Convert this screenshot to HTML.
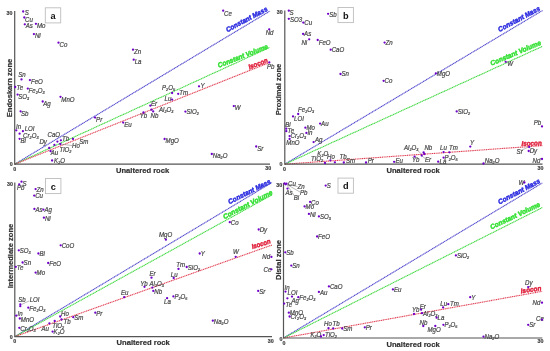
<!DOCTYPE html>
<html><head><meta charset="utf-8"><title>Mass balance plots</title><style>
html,body{margin:0;padding:0;background:#fff;}
body{width:550px;height:351px;overflow:hidden;}
svg{display:block;}
text{font-family:"Liberation Sans",Arial,sans-serif;}
.lb text{font-size:6.8px;font-style:italic;fill:#4a4a4a;stroke:#4a4a4a;stroke-width:0.22px;}
.ll{font-size:6.9px;font-weight:bold;font-style:italic;stroke-width:0.45px;}
.tk{font-size:5.3px;font-weight:bold;fill:#444;stroke:#444;stroke-width:0.2px;}
.at{font-size:7.6px;font-weight:bold;fill:#333;stroke:#333;stroke-width:0.2px;}
.pl{font-size:9.2px;font-weight:bold;fill:#111;}
</style></head><body>
<svg width="550" height="351" viewBox="0 0 550 351">
<rect width="550" height="351" fill="#fff"/>
<g><line x1="14.7" y1="164.2" x2="270" y2="11" stroke="#5048cc" stroke-width="1.1" stroke-dasharray="1.3 0.45"/><line x1="14.7" y1="164.2" x2="269.6" y2="47.5" stroke="#3fd83f" stroke-width="1.1" stroke-dasharray="1.3 0.45"/><line x1="14.7" y1="164.2" x2="269.6" y2="62.5" stroke="#e03c50" stroke-width="1.1" stroke-dasharray="1.2 0.6"/><path d="M14.7 11 V164.2 H270" fill="none" stroke="#555" stroke-width="1.2"/><text x="227.5" y="32.2" transform="rotate(-28 227.5 32.2)" class="ll" fill="#2a2ae0" stroke="#2a2ae0" textLength="46" lengthAdjust="spacingAndGlyphs">Constant Mass</text><text x="218.8" y="67.8" transform="rotate(-21.3 218.8 67.8)" class="ll" fill="#33e033" stroke="#33e033" textLength="53.3" lengthAdjust="spacingAndGlyphs">Constant Volume</text><text x="249.5" y="69.5" transform="rotate(-21.5 249.5 69.5)" class="ll" fill="#e0203c" stroke="#e0203c" textLength="20.2" lengthAdjust="spacingAndGlyphs">Isocon</text><text class="tk" x="6.5" y="14.5">30</text><text class="tk" x="265.3" y="170.2">30</text><text class="tk" x="9.8" y="166">0</text><text class="tk" x="13.2" y="170.5">0</text><text class="at" x="116" y="172.6">Unaltered rock</text><text class="at" text-anchor="middle" transform="translate(12.3 88) rotate(-90)">Endoskarn zone</text><rect x="45.3" y="7.8" width="15.4" height="15.1" fill="#fff" stroke="#bdbdbd" stroke-width="0.9"/><text class="pl" x="53" y="18.8" text-anchor="middle">a</text></g>
<g><line x1="284.8" y1="164.2" x2="542.5" y2="10.5" stroke="#5048cc" stroke-width="1.1" stroke-dasharray="1.3 0.45"/><line x1="284.8" y1="164.2" x2="542.3" y2="46.4" stroke="#3fd83f" stroke-width="1.1" stroke-dasharray="1.3 0.45"/><line x1="284.8" y1="164.2" x2="542.3" y2="145.6" stroke="#e03c50" stroke-width="1.1" stroke-dasharray="1.2 0.6"/><path d="M284.8 10.5 V164.2 H542.5" fill="none" stroke="#555" stroke-width="1.2"/><text x="499.6" y="31.9" transform="rotate(-28 499.6 31.9)" class="ll" fill="#2a2ae0" stroke="#2a2ae0" textLength="46.5" lengthAdjust="spacingAndGlyphs">Constant Mass</text><text x="491.5" y="65.8" transform="rotate(-23 491.5 65.8)" class="ll" fill="#33e033" stroke="#33e033" textLength="54.5" lengthAdjust="spacingAndGlyphs">Constant Volume</text><text x="521.4" y="145.9" transform="rotate(-1.5 521.4 145.9)" class="ll" fill="#e0203c" stroke="#e0203c" textLength="20.5" lengthAdjust="spacingAndGlyphs">Isocon</text><text class="tk" x="276.8" y="14">30</text><text class="tk" x="537.5" y="170.2">30</text><text class="tk" x="279.6" y="166">0</text><text class="tk" x="283" y="170.5">0</text><text class="at" x="386.5" y="172.6">Unaltered rock</text><text class="at" text-anchor="middle" transform="translate(280.8 89.5) rotate(-90)">Proximal zone</text><rect x="338" y="7.5" width="15.4" height="15.1" fill="#fff" stroke="#bdbdbd" stroke-width="0.9"/><text class="pl" x="345.7" y="18.5" text-anchor="middle">b</text></g>
<g><line x1="14.8" y1="336.6" x2="272" y2="182.5" stroke="#5048cc" stroke-width="1.1" stroke-dasharray="1.3 0.45"/><line x1="14.8" y1="336.6" x2="271.8" y2="195" stroke="#3fd83f" stroke-width="1.1" stroke-dasharray="1.3 0.45"/><line x1="14.8" y1="336.6" x2="272" y2="245" stroke="#e03c50" stroke-width="1.1" stroke-dasharray="1.2 0.6"/><path d="M14.8 182.5 V336.6 H272" fill="none" stroke="#555" stroke-width="1.2"/><text x="229.6" y="204.3" transform="rotate(-26.9 229.6 204.3)" class="ll" fill="#2a2ae0" stroke="#2a2ae0" textLength="46.8" lengthAdjust="spacingAndGlyphs">Constant Mass</text><text x="224.4" y="219.2" transform="rotate(-27.3 224.4 219.2)" class="ll" fill="#33e033" stroke="#33e033" textLength="54.7" lengthAdjust="spacingAndGlyphs">Constant Volume</text><text x="252.4" y="249.1" transform="rotate(-17.7 252.4 249.1)" class="ll" fill="#e0203c" stroke="#e0203c" textLength="19.7" lengthAdjust="spacingAndGlyphs">Isocon</text><text class="tk" x="7" y="186.4">30</text><text class="tk" x="267.7" y="343.2">30</text><text class="tk" x="9.8" y="338.6">0</text><text class="tk" x="13.2" y="343.2">0</text><text class="at" x="116.6" y="345.3">Unaltered rock</text><text class="at" text-anchor="middle" transform="translate(12.6 256) rotate(-90)">Intermediate zone</text><rect x="45.5" y="178.5" width="15.4" height="15.1" fill="#fff" stroke="#bdbdbd" stroke-width="0.9"/><text class="pl" x="53.2" y="189.5" text-anchor="middle">c</text></g>
<g><line x1="283.5" y1="338" x2="542.3" y2="183" stroke="#5048cc" stroke-width="1.1" stroke-dasharray="1.3 0.45"/><line x1="283.5" y1="338" x2="542.3" y2="207.6" stroke="#3fd83f" stroke-width="1.1" stroke-dasharray="1.3 0.45"/><line x1="283.5" y1="338" x2="542.3" y2="291.3" stroke="#e03c50" stroke-width="1.1" stroke-dasharray="1.2 0.6"/><path d="M283.5 183 V338 H542.3" fill="none" stroke="#555" stroke-width="1.2"/><text x="499.6" y="204.4" transform="rotate(-27.9 499.6 204.4)" class="ll" fill="#2a2ae0" stroke="#2a2ae0" textLength="46.5" lengthAdjust="spacingAndGlyphs">Constant Mass</text><text x="491.5" y="229.6" transform="rotate(-25.5 491.5 229.6)" class="ll" fill="#33e033" stroke="#33e033" textLength="54.4" lengthAdjust="spacingAndGlyphs">Constant Volume</text><text x="521.1" y="293.4" transform="rotate(-8.3 521.1 293.4)" class="ll" fill="#e0203c" stroke="#e0203c" textLength="20.7" lengthAdjust="spacingAndGlyphs">Isocon</text><text class="tk" x="276.3" y="187.2">30</text><text class="tk" x="537.5" y="343.2">30</text><text class="tk" x="279.4" y="340.5">0</text><text class="tk" x="282.5" y="344.8">0</text><text class="at" x="386.5" y="346.5">Unaltered rock</text><text class="at" text-anchor="middle" transform="translate(280.8 260) rotate(-90)">Distal zone</text><rect x="338" y="178.1" width="15.4" height="15.1" fill="#fff" stroke="#bdbdbd" stroke-width="0.9"/><text class="pl" x="345.7" y="189.1" text-anchor="middle">d</text></g>
<g stroke="#777" stroke-width="0.5"><line x1="60.3" y1="144" x2="72" y2="145.6"/><line x1="417.5" y1="150.4" x2="422" y2="154.5"/><line x1="422" y1="156" x2="425.5" y2="158.8"/><line x1="21.5" y1="304.5" x2="29.2" y2="300.9"/><line x1="520.6" y1="150.6" x2="528.6" y2="147"/><line x1="287" y1="184" x2="297.5" y2="186.6"/><line x1="287" y1="184.5" x2="300" y2="192"/><line x1="287" y1="185" x2="294.5" y2="196"/></g>
<g class="lb"><text transform="translate(24.8 15.2) scale(0.9 1)">S</text><text transform="translate(25.1 21.6) scale(0.9 1)">Cu</text><text transform="translate(25.8 28.4) scale(0.9 1)">As</text><text transform="translate(37 27.6) scale(0.9 1)">Mo</text><text transform="translate(34.9 38.2) scale(0.9 1)">Ni</text><text transform="translate(59.5 46.8) scale(0.9 1)">Co</text><text transform="translate(134 53.8) scale(0.9 1)">Zn</text><text transform="translate(134.7 63.8) scale(0.9 1)">La</text><text transform="translate(224.1 16.4) scale(0.9 1)">Ce</text><text transform="translate(265.7 35.2) scale(0.9 1)">Nd</text><text transform="translate(267 69.4) scale(0.9 1)">Pb</text><text transform="translate(18.3 77) scale(0.9 1)">Sn</text><text transform="translate(31 84.3) scale(0.9 1)">FeO</text><text transform="translate(16.5 89.7) scale(0.9 1)">Te</text><text transform="translate(28.5 93) scale(0.9 1)">Fe<tspan font-size="4.22" baseline-shift="-0.9">2</tspan>O<tspan font-size="4.22" baseline-shift="-0.9">3</tspan></text><text transform="translate(18.2 99) scale(0.9 1)">SO<tspan font-size="4.22" baseline-shift="-0.9">3</tspan></text><text transform="translate(61.3 101.7) scale(0.9 1)">MnO</text><text transform="translate(43.3 105.6) scale(0.9 1)">Ag</text><text transform="translate(20.9 115.9) scale(0.9 1)">Sb</text><text transform="translate(96.1 121.7) scale(0.9 1)">Pr</text><text transform="translate(124.2 126.7) scale(0.9 1)">Eu</text><text transform="translate(16 128.5) scale(0.9 1)">In</text><text transform="translate(24.7 131.4) scale(0.9 1)">LOI</text><text transform="translate(23.1 137.7) scale(0.9 1)">Cr<tspan font-size="4.22" baseline-shift="-0.9">2</tspan>O<tspan font-size="4.22" baseline-shift="-0.9">3</tspan></text><text transform="translate(20.5 143) scale(0.9 1)">Bi</text><text transform="translate(47.5 136.7) scale(0.9 1)">CaO</text><text transform="translate(62 140.5) scale(0.9 1)">Tb</text><text transform="translate(39.4 143.8) scale(0.9 1)">Dy</text><text transform="translate(59.5 151.5) scale(0.9 1)">TiO<tspan font-size="4.22" baseline-shift="-0.9">2</tspan></text><text transform="translate(79.2 143.8) scale(0.9 1)">Sm</text><text transform="translate(72.1 148.2) scale(0.9 1)">Ho</text><text transform="translate(50.8 155.3) scale(0.9 1)">Au</text><text transform="translate(54.1 162.6) scale(0.9 1)">K<tspan font-size="4.22" baseline-shift="-0.9">2</tspan>O</text><text transform="translate(162 89.5) scale(0.9 1)">P<tspan font-size="4.22" baseline-shift="-0.9">2</tspan>O<tspan font-size="4.22" baseline-shift="-0.9">5</tspan></text><text transform="translate(200.5 87.8) scale(0.9 1)">Y</text><text transform="translate(179.3 95.3) scale(0.9 1)">Tm</text><text transform="translate(164.6 100.8) scale(0.9 1)">Lu</text><text transform="translate(150.9 105.9) scale(0.9 1)">Er</text><text transform="translate(159 111.8) scale(0.9 1)">Al<tspan font-size="4.22" baseline-shift="-0.9">2</tspan>O<tspan font-size="4.22" baseline-shift="-0.9">3</tspan></text><text transform="translate(150.5 118) scale(0.9 1)">Nb</text><text transform="translate(139.8 118.2) scale(0.9 1)">Yb</text><text transform="translate(186.5 114) scale(0.9 1)">SiO<tspan font-size="4.22" baseline-shift="-0.9">2</tspan></text><text transform="translate(234.8 110.2) scale(0.9 1)">W</text><text transform="translate(165.6 143.1) scale(0.9 1)">MgO</text><text transform="translate(257.2 150.6) scale(0.9 1)">Sr</text><text transform="translate(212.8 158.1) scale(0.9 1)">Na<tspan font-size="4.22" baseline-shift="-0.9">2</tspan>O</text><text transform="translate(289.4 15.3) scale(0.9 1)">S</text><text transform="translate(290 22.3) scale(0.9 1)">SO3</text><text transform="translate(304.3 24.9) scale(0.9 1)">Cu</text><text transform="translate(329.2 16.6) scale(0.9 1)">Sb</text><text transform="translate(304.1 36.2) scale(0.9 1)">As</text><text transform="translate(301.4 44.9) scale(0.9 1)">Ni</text><text transform="translate(318.7 44.7) scale(0.9 1)">FeO</text><text transform="translate(331.7 52) scale(0.9 1)">CaO</text><text transform="translate(385.6 44.9) scale(0.9 1)">Zn</text><text transform="translate(341.5 76.3) scale(0.9 1)">Sn</text><text transform="translate(384.6 83.1) scale(0.9 1)">Co</text><text transform="translate(436.8 75.6) scale(0.9 1)">MgO</text><text transform="translate(507.2 65.6) scale(0.9 1)">W</text><text transform="translate(457.7 113.7) scale(0.9 1)">SiO<tspan font-size="4.22" baseline-shift="-0.9">2</tspan></text><text transform="translate(533.7 125) scale(0.9 1)">Pb</text><text transform="translate(469.9 144.6) scale(0.9 1)">Y</text><text transform="translate(516.6 154) scale(0.9 1)">Sr</text><text transform="translate(529.7 153.3) scale(0.9 1)">Dy</text><text transform="translate(532.5 162.6) scale(0.9 1)">Nd</text><text transform="translate(484.8 162.8) scale(0.9 1)">Na<tspan font-size="4.22" baseline-shift="-0.9">2</tspan>O</text><text transform="translate(439.5 163.6) scale(0.9 1)">La</text><text transform="translate(444.6 159.9) scale(0.9 1)">P<tspan font-size="4.22" baseline-shift="-0.9">2</tspan>O<tspan font-size="4.22" baseline-shift="-0.9">5</tspan></text><text transform="translate(440 150.2) scale(0.9 1)">Lu</text><text transform="translate(449 150.2) scale(0.9 1)">Tm</text><text transform="translate(424.4 150) scale(0.9 1)">Nb</text><text transform="translate(425 162) scale(0.9 1)">Er</text><text transform="translate(404 149.6) scale(0.9 1)">Al<tspan font-size="4.22" baseline-shift="-0.9">2</tspan>O<tspan font-size="4.22" baseline-shift="-0.9">3</tspan></text><text transform="translate(412 162) scale(0.9 1)">Yb</text><text transform="translate(395.5 163.1) scale(0.9 1)">Eu</text><text transform="translate(367.8 163.2) scale(0.9 1)">Pr</text><text transform="translate(346 163) scale(0.9 1)">Sm</text><text transform="translate(339.4 158.6) scale(0.9 1)">Tb</text><text transform="translate(327.1 159) scale(0.9 1)">Ho</text><text transform="translate(311.1 161) scale(0.9 1)">TiO<tspan font-size="4.22" baseline-shift="-0.9">2</tspan></text><text transform="translate(317.3 156) scale(0.9 1)">K<tspan font-size="4.22" baseline-shift="-0.9">2</tspan>O</text><text transform="translate(298 111.6) scale(0.9 1)">Fe<tspan font-size="4.22" baseline-shift="-0.9">2</tspan>O<tspan font-size="4.22" baseline-shift="-0.9">3</tspan></text><text transform="translate(294 120.5) scale(0.9 1)">LOI</text><text transform="translate(285.3 126.5) scale(0.9 1)">Bi</text><text transform="translate(287.5 132.6) scale(0.9 1)">Te</text><text transform="translate(306.4 130) scale(0.9 1)">Mo</text><text transform="translate(321.1 125.9) scale(0.9 1)">Au</text><text transform="translate(307.4 135.2) scale(0.9 1)">In</text><text transform="translate(290.6 138.4) scale(0.9 1)">Cr<tspan font-size="4.22" baseline-shift="-0.9">2</tspan>O<tspan font-size="4.22" baseline-shift="-0.9">3</tspan></text><text transform="translate(286.3 145) scale(0.9 1)">MnO</text><text transform="translate(315 141.8) scale(0.9 1)">Ag</text><text transform="translate(22.6 185.5) scale(0.9 1)">S</text><text transform="translate(17 190) scale(0.9 1)">Pb</text><text transform="translate(36.6 191.9) scale(0.9 1)">Zn</text><text transform="translate(35.2 198.2) scale(0.9 1)">Cu</text><text transform="translate(35.4 211.7) scale(0.9 1)">As</text><text transform="translate(44.4 212.4) scale(0.9 1)">Ag</text><text transform="translate(44.9 220.5) scale(0.9 1)">Ni</text><text transform="translate(61.7 248.1) scale(0.9 1)">CoO</text><text transform="translate(19.8 253.1) scale(0.9 1)">SO<tspan font-size="4.22" baseline-shift="-0.9">3</tspan></text><text transform="translate(39.4 256.3) scale(0.9 1)">Bi</text><text transform="translate(23.6 265.3) scale(0.9 1)">Sn</text><text transform="translate(49.2 265.8) scale(0.9 1)">FeO</text><text transform="translate(16.8 269.6) scale(0.9 1)">Te</text><text transform="translate(36.6 275.4) scale(0.9 1)">Mo</text><text transform="translate(18.3 302.1) scale(0.9 1)">Sb</text><text transform="translate(29.7 302) scale(0.9 1)">LOI</text><text transform="translate(29.3 310.5) scale(0.9 1)">Fe<tspan font-size="4.22" baseline-shift="-0.9">2</tspan>O<tspan font-size="4.22" baseline-shift="-0.9">3</tspan></text><text transform="translate(17.5 316) scale(0.9 1)">In</text><text transform="translate(20.8 321.8) scale(0.9 1)">MnO</text><text transform="translate(20.3 330.6) scale(0.9 1)">Cr<tspan font-size="4.22" baseline-shift="-0.9">2</tspan>O<tspan font-size="4.22" baseline-shift="-0.9">3</tspan></text><text transform="translate(61 316) scale(0.9 1)">Ho</text><text transform="translate(63.5 324) scale(0.9 1)">Tb</text><text transform="translate(74.3 320) scale(0.9 1)">Sm</text><text transform="translate(96.3 315.5) scale(0.9 1)">Pr</text><text transform="translate(121 295) scale(0.9 1)">Eu</text><text transform="translate(52.2 328) scale(0.9 1)">TiO<tspan font-size="4.22" baseline-shift="-0.9">2</tspan></text><text transform="translate(41.5 331) scale(0.9 1)">Au</text><text transform="translate(53.6 334.4) scale(0.9 1)">K<tspan font-size="4.22" baseline-shift="-0.9">2</tspan>O</text><text transform="translate(176.2 267.4) scale(0.9 1)">Tm</text><text transform="translate(187.7 269.8) scale(0.9 1)">SiO<tspan font-size="4.22" baseline-shift="-0.9">2</tspan></text><text transform="translate(149.5 276) scale(0.9 1)">Er</text><text transform="translate(170.8 276.9) scale(0.9 1)">Lu</text><text transform="translate(140.2 286) scale(0.9 1)">Yb</text><text transform="translate(149.5 286.2) scale(0.9 1)">Al<tspan font-size="4.22" baseline-shift="-0.9">2</tspan>O<tspan font-size="4.22" baseline-shift="-0.9">3</tspan></text><text transform="translate(154.3 293.7) scale(0.9 1)">Nb</text><text transform="translate(164 304) scale(0.9 1)">La</text><text transform="translate(174.4 299.2) scale(0.9 1)">P<tspan font-size="4.22" baseline-shift="-0.9">2</tspan>O<tspan font-size="4.22" baseline-shift="-0.9">5</tspan></text><text transform="translate(259.2 293.7) scale(0.9 1)">Sr</text><text transform="translate(213.8 323.5) scale(0.9 1)">Na<tspan font-size="4.22" baseline-shift="-0.9">2</tspan>O</text><text transform="translate(200.7 256.3) scale(0.9 1)">Y</text><text transform="translate(233 254) scale(0.9 1)">W</text><text transform="translate(262.3 259.2) scale(0.9 1)">Nd</text><text transform="translate(263.5 271.6) scale(0.9 1)">Ce</text><text transform="translate(230.8 225) scale(0.9 1)">Co</text><text transform="translate(259.7 232.3) scale(0.9 1)">Dy</text><text transform="translate(159 237) scale(0.9 1)">MgO</text><text transform="translate(288 185.8) scale(0.9 1)">Cu</text><text transform="translate(297.6 188.5) scale(0.9 1)">Zn</text><text transform="translate(300 194.5) scale(0.9 1)">Pb</text><text transform="translate(285.5 194.5) scale(0.9 1)">As</text><text transform="translate(293.8 199.6) scale(0.9 1)">Bi</text><text transform="translate(326.7 188.2) scale(0.9 1)">S</text><text transform="translate(311.1 204.5) scale(0.9 1)">Co</text><text transform="translate(305.6 209) scale(0.9 1)">Mo</text><text transform="translate(309.9 216.5) scale(0.9 1)">Ni</text><text transform="translate(319.9 219) scale(0.9 1)">SO<tspan font-size="4.22" baseline-shift="-0.9">3</tspan></text><text transform="translate(318.1 239.1) scale(0.9 1)">FeO</text><text transform="translate(286.3 254.9) scale(0.9 1)">Sb</text><text transform="translate(292.3 268.2) scale(0.9 1)">Sn</text><text transform="translate(284.6 290) scale(0.9 1)">In</text><text transform="translate(287.6 295) scale(0.9 1)">LOI</text><text transform="translate(329.9 289) scale(0.9 1)">CaO</text><text transform="translate(319.9 294.5) scale(0.9 1)">Au</text><text transform="translate(393.9 292) scale(0.9 1)">Eu</text><text transform="translate(291.5 302.5) scale(0.9 1)">Ag</text><text transform="translate(299.3 299.8) scale(0.9 1)">Fe<tspan font-size="4.22" baseline-shift="-0.9">2</tspan>O<tspan font-size="4.22" baseline-shift="-0.9">3</tspan></text><text transform="translate(285.5 307) scale(0.9 1)">Te</text><text transform="translate(289.8 315.3) scale(0.9 1)">MnO</text><text transform="translate(290.6 319.1) scale(0.9 1)">Cr<tspan font-size="4.22" baseline-shift="-0.9">2</tspan>O<tspan font-size="4.22" baseline-shift="-0.9">3</tspan></text><text transform="translate(324 326) scale(0.9 1)">Ho</text><text transform="translate(332.5 326) scale(0.9 1)">Tb</text><text transform="translate(343.2 331.1) scale(0.9 1)">Sm</text><text transform="translate(365.8 329.9) scale(0.9 1)">Pr</text><text transform="translate(325 337.2) scale(0.9 1)">TiO<tspan font-size="4.22" baseline-shift="-0.9">2</tspan></text><text transform="translate(310.4 337.2) scale(0.9 1)">K<tspan font-size="4.22" baseline-shift="-0.9">2</tspan>O</text><text transform="translate(518.6 185) scale(0.9 1)">W</text><text transform="translate(456.9 258) scale(0.9 1)">SiO<tspan font-size="4.22" baseline-shift="-0.9">2</tspan></text><text transform="translate(525 285) scale(0.9 1)">Dy</text><text transform="translate(471.2 299.8) scale(0.9 1)">Y</text><text transform="translate(532.5 305) scale(0.9 1)">Nd</text><text transform="translate(440.3 306) scale(0.9 1)">Lu</text><text transform="translate(449.9 306) scale(0.9 1)">Tm</text><text transform="translate(419.7 309) scale(0.9 1)">Er</text><text transform="translate(412 312.3) scale(0.9 1)">Yb</text><text transform="translate(423 315.8) scale(0.9 1)">Al<tspan font-size="4.22" baseline-shift="-0.9">2</tspan>O<tspan font-size="4.22" baseline-shift="-0.9">3</tspan></text><text transform="translate(437.6 320.3) scale(0.9 1)">La</text><text transform="translate(536 321.2) scale(0.9 1)">Ce</text><text transform="translate(419.5 324.5) scale(0.9 1)">Nb</text><text transform="translate(427.5 332.2) scale(0.9 1)">MgO</text><text transform="translate(444.4 327.4) scale(0.9 1)">P<tspan font-size="4.22" baseline-shift="-0.9">2</tspan>O<tspan font-size="4.22" baseline-shift="-0.9">5</tspan></text><text transform="translate(529.2 327.4) scale(0.9 1)">Sr</text><text transform="translate(484.5 339.2) scale(0.9 1)">Na<tspan font-size="4.22" baseline-shift="-0.9">2</tspan>O</text></g>
<g fill="#7000c8"><circle cx="23.2" cy="11.5" r="1.15"/><circle cx="24.3" cy="17.5" r="1.15"/><circle cx="24.8" cy="24.3" r="1.15"/><circle cx="35.9" cy="23.8" r="1.15"/><circle cx="33.9" cy="34.1" r="1.15"/><circle cx="58.5" cy="42.7" r="1.15"/><circle cx="133" cy="49.7" r="1.15"/><circle cx="133.7" cy="59.7" r="1.15"/><circle cx="223.2" cy="10.7" r="1.15"/><circle cx="269.2" cy="29.3" r="1.15"/><circle cx="269.3" cy="62.4" r="1.15"/><circle cx="21.5" cy="79.4" r="1.15"/><circle cx="29.9" cy="80.1" r="1.15"/><circle cx="15.2" cy="87" r="1.15"/><circle cx="27.8" cy="88.6" r="1.15"/><circle cx="17.6" cy="94.6" r="1.15"/><circle cx="60.5" cy="96.8" r="1.15"/><circle cx="42.7" cy="101.5" r="1.15"/><circle cx="20.6" cy="111.3" r="1.15"/><circle cx="95.1" cy="117.6" r="1.15"/><circle cx="123.2" cy="122.6" r="1.15"/><circle cx="16.3" cy="130.3" r="1.15"/><circle cx="22.9" cy="131.2" r="1.15"/><circle cx="19.6" cy="133.7" r="1.15"/><circle cx="19.6" cy="138.8" r="1.15"/><circle cx="57.4" cy="141.6" r="1.15"/><circle cx="60.9" cy="140.3" r="1.15"/><circle cx="49.2" cy="148" r="1.15"/><circle cx="54.4" cy="144.9" r="1.15"/><circle cx="60.3" cy="144" r="1.15"/><circle cx="73" cy="138.9" r="1.15"/><circle cx="50.6" cy="151.2" r="1.15"/><circle cx="52.1" cy="160.5" r="1.15"/><circle cx="172.1" cy="93" r="1.15"/><circle cx="199" cy="86.3" r="1.15"/><circle cx="178.2" cy="93.8" r="1.15"/><circle cx="172.1" cy="99.6" r="1.15"/><circle cx="150.3" cy="105.7" r="1.15"/><circle cx="151.4" cy="109.7" r="1.15"/><circle cx="153.2" cy="111.4" r="1.15"/><circle cx="143.5" cy="112.5" r="1.15"/><circle cx="185.4" cy="111.6" r="1.15"/><circle cx="233.8" cy="106.1" r="1.15"/><circle cx="164.6" cy="139" r="1.15"/><circle cx="256.2" cy="146.5" r="1.15"/><circle cx="211.8" cy="154" r="1.15"/><circle cx="288.8" cy="10.7" r="1.15"/><circle cx="288.8" cy="18.8" r="1.15"/><circle cx="303.3" cy="22.6" r="1.15"/><circle cx="328.1" cy="13.8" r="1.15"/><circle cx="303.1" cy="33.9" r="1.15"/><circle cx="309.2" cy="39.3" r="1.15"/><circle cx="317.7" cy="40" r="1.15"/><circle cx="330.7" cy="49.7" r="1.15"/><circle cx="384.6" cy="42.6" r="1.15"/><circle cx="340.5" cy="74" r="1.15"/><circle cx="383.6" cy="80.8" r="1.15"/><circle cx="435.8" cy="73.3" r="1.15"/><circle cx="505.7" cy="61.8" r="1.15"/><circle cx="456.7" cy="111.4" r="1.15"/><circle cx="542" cy="126.4" r="1.15"/><circle cx="470.3" cy="146.6" r="1.15"/><circle cx="529.2" cy="147" r="1.15"/><circle cx="528.7" cy="151" r="1.15"/><circle cx="542" cy="159" r="1.15"/><circle cx="483.5" cy="163.5" r="1.15"/><circle cx="438.2" cy="161.7" r="1.15"/><circle cx="443.6" cy="157.6" r="1.15"/><circle cx="443.6" cy="152.1" r="1.15"/><circle cx="449.4" cy="152.3" r="1.15"/><circle cx="423.6" cy="152.5" r="1.15"/><circle cx="424.4" cy="154" r="1.15"/><circle cx="421.7" cy="155.5" r="1.15"/><circle cx="414.6" cy="156.6" r="1.15"/><circle cx="394.1" cy="161.8" r="1.15"/><circle cx="366" cy="162.5" r="1.15"/><circle cx="343.8" cy="162.5" r="1.15"/><circle cx="334.9" cy="162.3" r="1.15"/><circle cx="330.4" cy="160.3" r="1.15"/><circle cx="325" cy="163" r="1.15"/><circle cx="298.2" cy="114" r="1.15"/><circle cx="293" cy="116.4" r="1.15"/><circle cx="286.3" cy="128.7" r="1.15"/><circle cx="286.3" cy="131.2" r="1.15"/><circle cx="305.4" cy="127.7" r="1.15"/><circle cx="320.1" cy="123.6" r="1.15"/><circle cx="306.4" cy="132.9" r="1.15"/><circle cx="289.6" cy="136.1" r="1.15"/><circle cx="289.6" cy="139" r="1.15"/><circle cx="313.6" cy="142.1" r="1.15"/><circle cx="21.5" cy="181.7" r="1.15"/><circle cx="19.2" cy="184.4" r="1.15"/><circle cx="35.6" cy="189.1" r="1.15"/><circle cx="34.2" cy="195.6" r="1.15"/><circle cx="34.4" cy="208.9" r="1.15"/><circle cx="43.4" cy="209.6" r="1.15"/><circle cx="43.9" cy="217.7" r="1.15"/><circle cx="60.7" cy="245.3" r="1.15"/><circle cx="18.8" cy="250.3" r="1.15"/><circle cx="38.4" cy="253.5" r="1.15"/><circle cx="22.6" cy="262.5" r="1.15"/><circle cx="48.2" cy="263" r="1.15"/><circle cx="15.8" cy="266.8" r="1.15"/><circle cx="35.6" cy="272.6" r="1.15"/><circle cx="20.3" cy="304.3" r="1.15"/><circle cx="20.3" cy="306.2" r="1.15"/><circle cx="28.3" cy="307.7" r="1.15"/><circle cx="16.3" cy="315.7" r="1.15"/><circle cx="19.8" cy="318.5" r="1.15"/><circle cx="19.3" cy="327.8" r="1.15"/><circle cx="60.2" cy="316.5" r="1.15"/><circle cx="61.5" cy="319.5" r="1.15"/><circle cx="73.3" cy="317.2" r="1.15"/><circle cx="95.3" cy="312.7" r="1.15"/><circle cx="124.2" cy="297.2" r="1.15"/><circle cx="54.7" cy="321" r="1.15"/><circle cx="49.4" cy="323.3" r="1.15"/><circle cx="52.6" cy="331.6" r="1.15"/><circle cx="178.5" cy="268.9" r="1.15"/><circle cx="186.7" cy="267" r="1.15"/><circle cx="151.5" cy="277.7" r="1.15"/><circle cx="173.7" cy="278" r="1.15"/><circle cx="144.5" cy="286.8" r="1.15"/><circle cx="152.4" cy="287.6" r="1.15"/><circle cx="153.3" cy="290.9" r="1.15"/><circle cx="167.1" cy="298.2" r="1.15"/><circle cx="173.4" cy="296.4" r="1.15"/><circle cx="258.2" cy="290.9" r="1.15"/><circle cx="212.8" cy="320.7" r="1.15"/><circle cx="199.7" cy="253.5" r="1.15"/><circle cx="235.7" cy="256.8" r="1.15"/><circle cx="271.4" cy="256.9" r="1.15"/><circle cx="271.4" cy="269.3" r="1.15"/><circle cx="229.8" cy="222.2" r="1.15"/><circle cx="258.7" cy="229.5" r="1.15"/><circle cx="165.9" cy="239.7" r="1.15"/><circle cx="285.6" cy="184.3" r="1.15"/><circle cx="284.5" cy="183.4" r="1.15"/><circle cx="286.5" cy="183.6" r="1.15"/><circle cx="287.5" cy="188.6" r="1.15"/><circle cx="325.7" cy="185.6" r="1.15"/><circle cx="310.1" cy="201.9" r="1.15"/><circle cx="304.6" cy="206.4" r="1.15"/><circle cx="308.9" cy="213.9" r="1.15"/><circle cx="318.9" cy="216.4" r="1.15"/><circle cx="317.1" cy="236.5" r="1.15"/><circle cx="285.3" cy="252.3" r="1.15"/><circle cx="291.3" cy="265.6" r="1.15"/><circle cx="285.5" cy="291.6" r="1.15"/><circle cx="328.9" cy="286.4" r="1.15"/><circle cx="318.9" cy="291.9" r="1.15"/><circle cx="392.9" cy="289.4" r="1.15"/><circle cx="292" cy="296.6" r="1.15"/><circle cx="298.3" cy="297.2" r="1.15"/><circle cx="287.4" cy="298.3" r="1.15"/><circle cx="284.2" cy="303.6" r="1.15"/><circle cx="288.8" cy="312.7" r="1.15"/><circle cx="289.6" cy="316.5" r="1.15"/><circle cx="328.5" cy="328.2" r="1.15"/><circle cx="333.2" cy="328.4" r="1.15"/><circle cx="342.2" cy="328.5" r="1.15"/><circle cx="364.8" cy="327.3" r="1.15"/><circle cx="323.7" cy="335.1" r="1.15"/><circle cx="321" cy="336.5" r="1.15"/><circle cx="524.4" cy="182.5" r="1.15"/><circle cx="455.9" cy="255.4" r="1.15"/><circle cx="528.2" cy="287.1" r="1.15"/><circle cx="470.2" cy="297.2" r="1.15"/><circle cx="542" cy="302.7" r="1.15"/><circle cx="443.1" cy="307.4" r="1.15"/><circle cx="448.3" cy="304.2" r="1.15"/><circle cx="421.1" cy="309.7" r="1.15"/><circle cx="414" cy="314" r="1.15"/><circle cx="422" cy="313.2" r="1.15"/><circle cx="436.6" cy="317.7" r="1.15"/><circle cx="542" cy="319.7" r="1.15"/><circle cx="423.3" cy="326" r="1.15"/><circle cx="435.3" cy="326" r="1.15"/><circle cx="443.4" cy="324.8" r="1.15"/><circle cx="528.2" cy="324.8" r="1.15"/><circle cx="483.5" cy="336.6" r="1.15"/></g>
</svg>
</body></html>
